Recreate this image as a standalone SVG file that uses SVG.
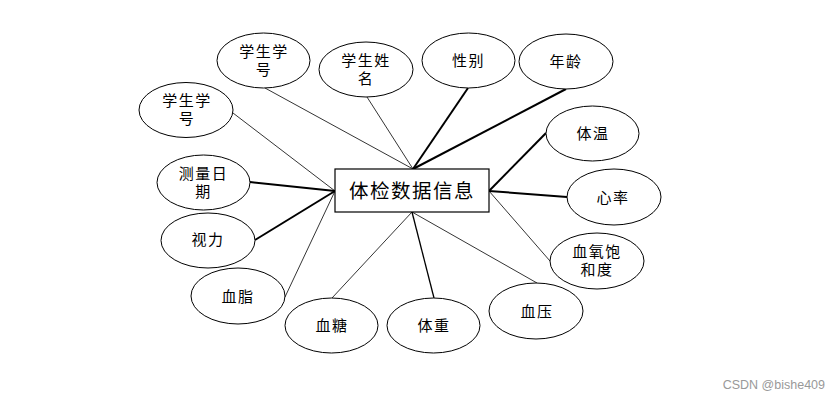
<svg xmlns="http://www.w3.org/2000/svg" width="840" height="403" viewBox="0 0 840 403">
<style>
.n ellipse{fill:#fff;stroke:#000;stroke-width:1}
.n text{font-family:"Liberation Sans","Noto Sans CJK SC",sans-serif;font-size:15px;letter-spacing:1.5px;text-anchor:middle;dominant-baseline:central;fill:#000}
.c line{stroke:#000}
.t{stroke-width:0.8}
.k{stroke-width:2}
.m{stroke-width:1.3}
</style>
<rect width="840" height="403" fill="#fff"/>
<g id="connectors" class="c">
<line class="t" x1="265" y1="88" x2="413" y2="169"/>
<line class="t" x1="367" y1="97" x2="413" y2="169"/>
<line class="k" x1="468" y1="88" x2="413" y2="169"/>
<line class="k" x1="566" y1="89" x2="413" y2="169"/>
<line class="t" x1="233" y1="113" x2="335" y2="191"/>
<line class="k" x1="250" y1="182" x2="335" y2="191"/>
<line class="k" x1="255" y1="240" x2="335" y2="191"/>
<line class="t" x1="285" y1="297" x2="335" y2="191"/>
<line class="t" x1="332" y1="298" x2="412" y2="212"/>
<line class="m" x1="434" y1="298" x2="412" y2="212"/>
<line class="t" x1="537" y1="283" x2="412" y2="212"/>
<line class="k" x1="546" y1="133" x2="489" y2="191"/>
<line class="k" x1="567" y1="197" x2="489" y2="191"/>
<line class="t" x1="550" y1="261" x2="489" y2="191"/>
</g>
<g id="center">
<rect x="335" y="169" width="154" height="43" fill="#fff" stroke="#000" stroke-width="1.2"/>
<text x="412" y="191" font-family="Liberation Serif, Noto Sans CJK SC, serif" font-size="19.5" letter-spacing="1.5" text-anchor="middle" dominant-baseline="central">体检数据信息</text>
</g>
<g id="n1" class="n"><ellipse cx="263.5" cy="60.5" rx="46.5" ry="27.5"/><text x="264" y="51.5">学生学</text><text x="264" y="69.5">号</text></g>
<g id="n2" class="n"><ellipse cx="186" cy="110" rx="47" ry="27.5"/><text x="187" y="100">学生学</text><text x="187" y="118">号</text></g>
<g id="n3" class="n"><ellipse cx="366" cy="69.5" rx="47" ry="27.5"/><text x="366" y="60">学生姓</text><text x="366" y="78.5">名</text></g>
<g id="n4" class="n"><ellipse cx="468.5" cy="60.5" rx="46.5" ry="27.5"/><text x="468.5" y="60">性别</text></g>
<g id="n5" class="n"><ellipse cx="566" cy="61.5" rx="47" ry="27.5"/><text x="566" y="61">年龄</text></g>
<g id="n6" class="n"><ellipse cx="592.5" cy="133.5" rx="46.5" ry="27.5"/><text x="593" y="133">体温</text></g>
<g id="n7" class="n"><ellipse cx="614" cy="197" rx="47" ry="28"/><text x="613" y="197">心率</text></g>
<g id="n8" class="n"><ellipse cx="597" cy="261" rx="47" ry="28"/><text x="597" y="251.5">血氧饱</text><text x="597" y="269.5">和度</text></g>
<g id="n9" class="n"><ellipse cx="536" cy="311" rx="47" ry="28"/><text x="537" y="311">血压</text></g>
<g id="n10" class="n"><ellipse cx="433.5" cy="325.5" rx="46.5" ry="27.5"/><text x="434" y="325">体重</text></g>
<g id="n11" class="n"><ellipse cx="331.5" cy="325.5" rx="46.5" ry="27.5"/><text x="332" y="325">血糖</text></g>
<g id="n12" class="n"><ellipse cx="238" cy="296" rx="47" ry="28"/><text x="238" y="296">血脂</text></g>
<g id="n13" class="n"><ellipse cx="208" cy="240.5" rx="47" ry="27.5"/><text x="208" y="239">视力</text></g>
<g id="n14" class="n"><ellipse cx="203.5" cy="182.5" rx="46.5" ry="27.5"/><text x="203.5" y="173.5">测量日</text><text x="203.5" y="191.5">期</text></g>
<text x="825" y="385" font-family="Liberation Sans, Arial, sans-serif" font-size="12.5" fill="#999" text-anchor="end" dominant-baseline="central">CSDN @bishe409</text>
</svg>
